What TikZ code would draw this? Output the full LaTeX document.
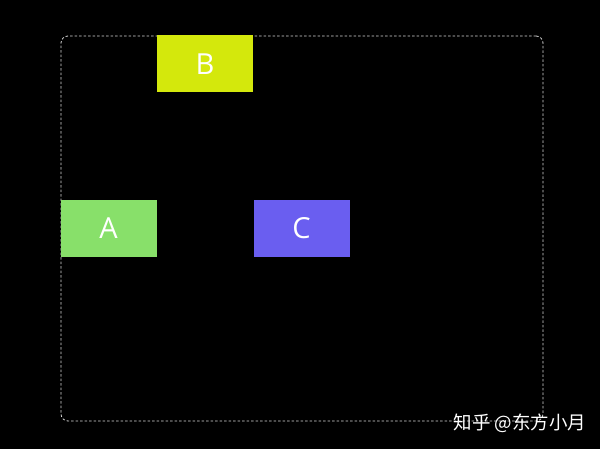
\documentclass[tikz,border=0pt]{standalone}
\usepackage{fontspec}
\setsansfont{Open Sans}
\newfontfamily\cjk{Noto Sans CJK SC}
\definecolor{boxa}{RGB}{136,224,106}
\definecolor{boxb}{RGB}{212,232,12}
\definecolor{boxc}{RGB}{106,94,240}
\begin{document}
\begin{tikzpicture}[x=1pt,y=-1pt,
    every node/.style={shape=rectangle, inner sep=0pt, text=white},
    item/.style={minimum width=96pt, minimum height=57pt, font=\sffamily\fontsize{29}{29}\selectfont}]
    \fill[black] (0,0) rectangle (600,449);
    \useasboundingbox (0,0) rectangle (600,449);
    \draw (302,228.5) node (frame) [draw=white!85!black, line width=0.8pt, dash pattern=on 2.5pt off 2pt, rounded corners=7pt, minimum width=482pt, minimum height=385pt] {};
    \draw (205,64) node (b) [item, fill=boxb] {B};
    \draw (108.5,228.5) node (a) [item, fill=boxa] {A};
    \draw (301.5,228.5) node (c) [item, fill=boxc] {C};
    \draw (520,423) node (mark) [font=\cjk\fontsize{18.5}{18.5}\selectfont] {知乎 @东方小月};
\end{tikzpicture}
\end{document}
